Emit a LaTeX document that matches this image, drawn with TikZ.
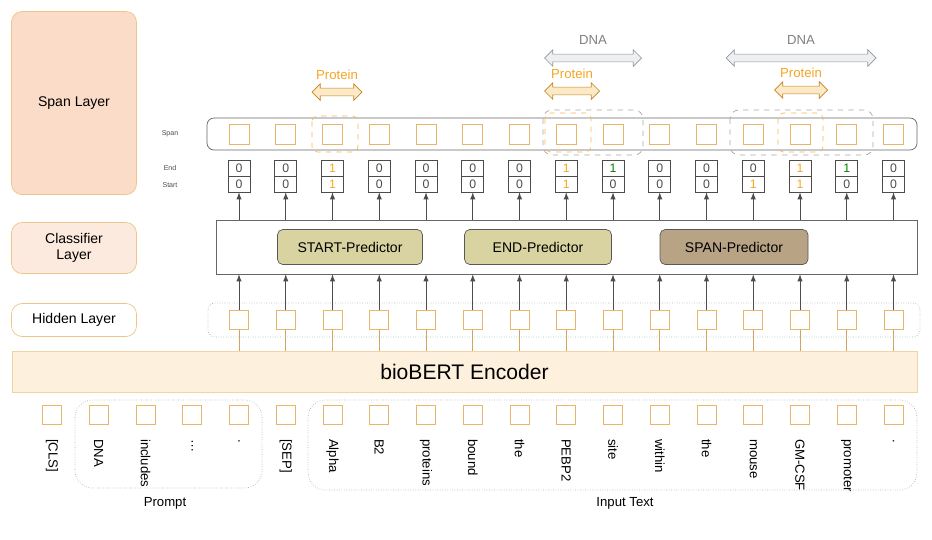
\documentclass[tikz,border=0pt]{standalone}
\usepackage{fontspec}
\setmainfont{Liberation Sans}
\usetikzlibrary{positioning,shapes.arrows,calc}
\definecolor{boxor}{HTML}{E8B66A}
\definecolor{peach}{HTML}{FBDCC8}
\definecolor{encfill}{HTML}{FDF0DC}
\definecolor{ptorange}{HTML}{F5A623}
\definecolor{dnablue}{HTML}{DCE8F2}
\definecolor{predy}{HTML}{D8D3A0}
\definecolor{predb}{HTML}{B9A385}
\newlength{\unitpx}
\setlength{\unitpx}{0.02cm}
\tikzset{
  cell/.style={draw=boxor,minimum size=19\unitpx,inner sep=0pt},
  layerbox/.style={draw=boxor!80,rounded corners=6pt,align=center,font=\fontsize{8}{9}\selectfont},
  pred/.style={draw=gray!70!black,rounded corners=3pt,minimum height=35\unitpx,font=\fontsize{8}{9}\selectfont},
  val/.style={draw=black!70,minimum width=22\unitpx,minimum height=16\unitpx,inner sep=0pt,font=\fontsize{7}{8}\selectfont},
  val0/.style={val,text=black!70},
  val1/.style={val,text=ptorange},
  val2/.style={val,text=green!50!black},
  tag/.style={font=\fontsize{4}{5}\selectfont,text=black!70},
  span arrow/.style={double arrow,draw=#1!80!black,fill=#1!25,double arrow head extend=2.5pt,inner sep=2pt,minimum width=8pt},
  ent/.style={font=\fontsize{7.5}{9}\selectfont},
  grp/.style={draw=gray!60,densely dotted,rounded corners=10pt},
  >=latex
}
\begin{document}
\begin{tikzpicture}[x=0.02cm,y=-0.02cm]
\useasboundingbox (0,0) rectangle (932,539);
% left layer labels
\node[layerbox,fill=peach,minimum width=125\unitpx,minimum height=183\unitpx] (spanlab) at (74,103) {Span Layer};
\node[layerbox,fill=peach!60,minimum width=125\unitpx,minimum height=51\unitpx] (clslab) at (74,248) {Classifier\\Layer};
\node[layerbox,minimum width=125\unitpx,minimum height=33\unitpx] (hidlab) at (74,320) {Hidden Layer};
% encoder
\node[draw=boxor!60,fill=encfill,minimum width=905\unitpx,minimum height=41\unitpx,font=\fontsize{12}{14}\selectfont] (enc) at (464.5,372) {bioBERT Encoder};
% classifier
\node[draw=black!60,minimum width=701\unitpx,minimum height=54\unitpx] (cls) at (566.5,247) {};
\node[pred,fill=predy,minimum width=145\unitpx] (startp) at (350,247) {START-Predictor};
\node[pred,fill=predy,minimum width=147\unitpx] (endp) at (538,247) {END-Predictor};
\node[pred,fill=predb,minimum width=148\unitpx] (spanp) at (734,247) {SPAN-Predictor};
% groups
\draw[grp,rounded corners=4pt] (208,303) rectangle (920,337);
\draw[black!60,rounded corners=4pt] (207,118) rectangle (917,150);
\draw[grp] (75,400) rectangle (262,488);
\draw[grp] (308,400) rectangle (917,490);
\node[ent] (prompt) at (165,503) {Prompt};
\node[ent] (input) at (625,503) {Input Text};
\node[tag] at (170,134) {Span};
\node[tag] at (170,168) {End};
\node[tag] at (170,185) {Start};
% tokens
\foreach \t [count=\i from 0] in {[CLS],DNA,includes,{\ldots},{.},[SEP],Alpha,B2,proteins,bound,the,PEBP2,site,within,the,mouse,GM-CSF,promoter,{.}}{
  \node[cell] (tok\i) at (52+46.75*\i,415) {};
  \node[ent,rotate=-90,anchor=west] at ($(tok\i.south)+(0,-8\unitpx)$) {\t};
}
% upper columns
\foreach \e/\s [count=\j from 1] in {0/0,0/0,1/1,0/0,0/0,0/0,0/0,1/1,2/0,0/0,0/0,0/1,1/1,2/0,0/0}{
  \pgfmathsetmacro{\cx}{52+46.75*(\j+3)}
  \node[cell,minimum size=20\unitpx] (span\j) at (\cx,134) {};
  \node[val\e] (end\j) at (\cx,168) {\ifnum\e=2 1\else\e\fi};
  \node[val\s] (start\j) at (\cx,184) {\s};
  \node[cell] (hid\j) at (\cx,320) {};
  \draw[boxor!90!black,thin] (hid\j |- enc.north) -- (hid\j);
  \draw[->,black!70,thin] (hid\j) -- (hid\j |- cls.south);
  \draw[->,black!70,thin] (hid\j |- cls.north) -- (start\j);
}
% entity spans
\draw[ptorange!80,dashed,rounded corners=3pt] (312,116) rectangle (358,152);
\draw[ptorange!80,dashed,rounded corners=3pt] (545,113) rectangle (591,152);
\draw[ptorange!80,dashed,rounded corners=3pt] (778,113) rectangle (823,152);
\draw[gray!70,dashed,rounded corners=5pt] (543,110) rectangle (643,155);
\draw[gray!70,dashed,rounded corners=5pt] (730,110) rectangle (873,155);
\node[span arrow=ptorange,minimum height=50\unitpx] (a1) at (337,92) {};
\node[span arrow=ptorange,minimum height=55\unitpx] (a2) at (572,91) {};
\node[span arrow=ptorange,minimum height=53\unitpx] (a3) at (801,90) {};
\node[span arrow=dnablue!60!gray,minimum height=97\unitpx] (d1) at (593,58) {};
\node[span arrow=dnablue!60!gray,minimum height=150\unitpx] (d2) at (801,58) {};
\node[ent,text=ptorange,above=1pt of a1] {Protein};
\node[ent,text=ptorange,above=1pt of a2] {Protein};
\node[ent,text=ptorange,above=1pt of a3] {Protein};
\node[ent,text=gray,above=2pt of d1] {DNA};
\node[ent,text=gray,above=2pt of d2] {DNA};
\end{tikzpicture}
\end{document}
